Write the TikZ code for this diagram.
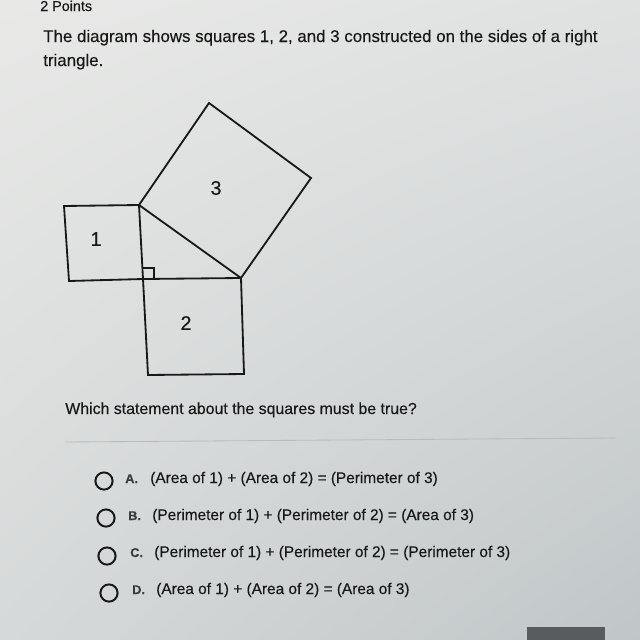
\documentclass[tikz,border=0pt]{standalone}
\usepackage{fontspec}
\setmainfont[FakeBold=0.3]{Liberation Sans}
\usepackage{xcolor}
\usetikzlibrary{positioning, calc, shadings}

\definecolor{paperTL}{RGB}{232,233,231}
\definecolor{paperTR}{RGB}{224,226,226}
\definecolor{paperBL}{RGB}{214,217,217}
\definecolor{paperBR}{RGB}{192,198,200}
\definecolor{ink}{RGB}{24,24,24}
\definecolor{rule}{RGB}{185,188,188}
\definecolor{button}{RGB}{88,92,96}

\tikzset{
  sq/.style={draw=ink, line width=1.3pt, line join=miter},
  lbl/.style={font=\fontsize{14}{16}\selectfont, text=ink},
  txt/.style={anchor=base west, inner sep=0pt, text=ink},
  radio/.style={draw=ink, line width=1.4pt, circle, minimum size=0.43cm, inner sep=0pt},
  letter/.style={anchor=base west, inner sep=0pt, text=ink!85, font=\fontsize{9}{11}\selectfont\bfseries},
  choice/.style={txt, font=\fontsize{10.95}{13}\selectfont}
}

\begin{document}
\begin{tikzpicture}[x=0.025cm, y=-0.025cm]
    % Page
    \clip (0,0) rectangle (640,640);
    \shade[upper left=paperTL, upper right=paperTR, lower left=paperBL, lower right=paperBR] (0,0) rectangle (640,640);

    % Header
    \node[txt, font=\fontsize{10.2}{12}\selectfont] (points) at (40,11) {2 Points};
    \node[txt, font=\fontsize{12}{14}\selectfont] (q1) at (43,42) {The diagram shows squares 1, 2, and 3 constructed on the sides of a right};
    \node[txt, font=\fontsize{12}{14}\selectfont] (q2) at (43,66) {triangle.};

    % Triangle corners
    \coordinate (A) at (139,205);
    \coordinate (C) at (143,279);
    \coordinate (B) at (241,278);

    % Square 1
    \draw[sq] (A) -- (C) -- (69,281) -- (64,206) -- cycle;
    % Square 2
    \draw[sq] (C) -- (B) -- (244,374) -- (148,375) -- cycle;
    % Square 3
    \draw[sq] (A) -- (209,103) -- (311,178) -- (B) -- cycle;
    % Right angle
    \draw[sq, line width=1pt] ($(C)+(0,-11)$) -- ($(C)+(11,-11)$) -- ($(C)+(11,0)$);

    \node[lbl] (n1) at (96,239) {1};
    \node[lbl] (n2) at (186,323) {2};
    \node[lbl] (n3) at (216,188) {3};

    % Question
    \node[txt, font=\fontsize{11.3}{13}\selectfont] (ask) at (65,414) {Which statement about the squares must be true?};
    \draw[rule, line width=0.6pt] (65,442) -- (615,438);

    % Choices
    \node[radio] (oA) at (104,481) {};
    \node[letter] (lA) at (125,483) {A.};
    \node[choice] (cA) at (150,483) {(Area of 1) + (Area of 2) = (Perimeter of 3)};

    \node[radio] (oB) at (106,518) {};
    \node[letter] (lB) at (128,520) {B.};
    \node[choice] (cB) at (152,520) {(Perimeter of 1) + (Perimeter of 2) = (Area of 3)};

    \node[radio] (oC) at (107,556) {};
    \node[letter] (lC) at (130,557) {C.};
    \node[choice] (cC) at (154,557) {(Perimeter of 1) + (Perimeter of 2) = (Perimeter of 3)};

    \node[radio] (oD) at (109,593) {};
    \node[letter] (lD) at (132,594) {D.};
    \node[choice] (cD) at (156,594) {(Area of 1) + (Area of 2) = (Area of 3)};

    % Button
    \fill[button] (527,627) rectangle (605,645);
\end{tikzpicture}
\end{document}
